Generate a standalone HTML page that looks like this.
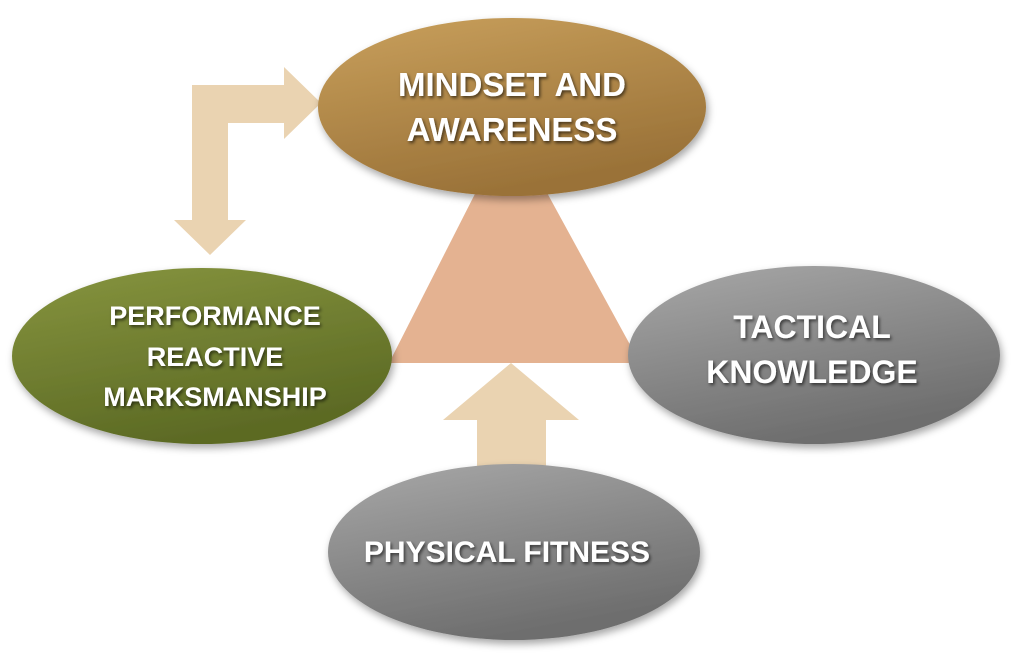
<!DOCTYPE html>
<html><head><meta charset="utf-8"><style>
html,body{margin:0;padding:0;background:#fff;}
svg{display:block}
text{font-family:"Liberation Sans",sans-serif;font-weight:bold;fill:#fff;text-anchor:middle;}
</style></head><body>
<svg width="1024" height="664" viewBox="0 0 1024 664" xmlns="http://www.w3.org/2000/svg">
<defs>
<linearGradient id="gold" x1="0" y1="0" x2="0.4" y2="1"><stop offset="0" stop-color="#c9a05c"/><stop offset="1" stop-color="#9a7238"/></linearGradient>
<linearGradient id="olive" x1="0" y1="0" x2="0.4" y2="1"><stop offset="0" stop-color="#87953f"/><stop offset="1" stop-color="#5c6a24"/></linearGradient>
<linearGradient id="gray" x1="0" y1="0" x2="0.4" y2="1"><stop offset="0" stop-color="#a8a8a8"/><stop offset="1" stop-color="#6e6e6e"/></linearGradient>
<filter id="sh" x="-20%" y="-20%" width="140%" height="150%"><feDropShadow dx="2" dy="4" stdDeviation="4" flood-color="#000" flood-opacity="0.35"/></filter>
<filter id="ts"><feDropShadow dx="1.5" dy="2" stdDeviation="1.5" flood-color="#000" flood-opacity="0.6"/></filter>
</defs>
<polygon points="510,125 640,363 389,363" fill="#e4b291"/>
<polygon points="192,85 284,85 284,67 321,103 284,139 284,123 228,123 228,220 246,220 210,255 174,220 192,220" fill="#ead3b1"/>
<polygon points="511,363 579,420 546,420 546,470 477,470 477,420 443,420" fill="#ead3b1"/>
<ellipse cx="512" cy="107" rx="194" ry="89" fill="url(#gold)" filter="url(#sh)"/>
<ellipse cx="202" cy="356" rx="190" ry="88" fill="url(#olive)" filter="url(#sh)"/>
<ellipse cx="814" cy="355" rx="186" ry="89" fill="url(#gray)" filter="url(#sh)"/>
<ellipse cx="514" cy="552" rx="186" ry="88" fill="url(#gray)" filter="url(#sh)"/>
<g filter="url(#ts)" font-size="33">
<text x="512" y="96">MINDSET AND</text>
<text x="512" y="141">AWARENESS</text>
<text x="215" y="325" font-size="27">PERFORMANCE</text>
<text x="215" y="366" font-size="27">REACTIVE</text>
<text x="215" y="406" font-size="27">MARKSMANSHIP</text>
<text x="812" y="338" font-size="32">TACTICAL</text>
<text x="812" y="383" font-size="32">KNOWLEDGE</text>
<text x="507" y="562" font-size="30">PHYSICAL FITNESS</text>
</g>
</svg>
</body></html>
